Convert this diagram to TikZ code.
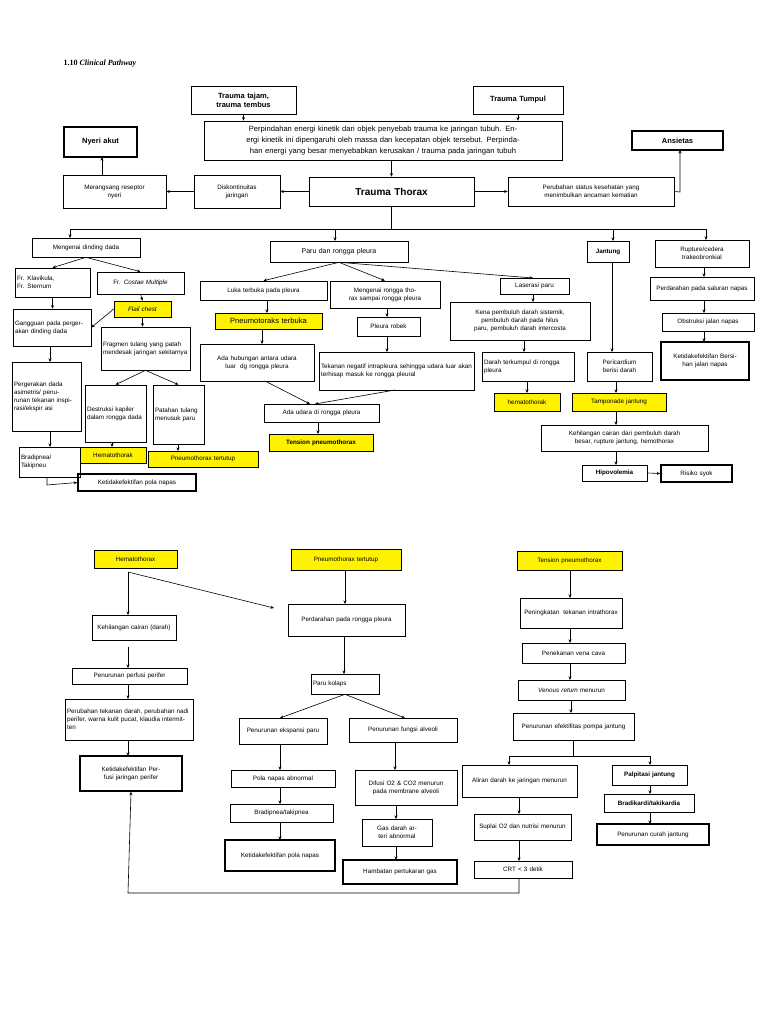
\documentclass[tikz,border=0pt]{standalone}
\usepackage{fontspec}
\setmainfont{Liberation Sans}
\usetikzlibrary{arrows.meta}
\newcommand\bx[7]{%
  \pgfmathsetmacro\bw{#4-#2}\pgfmathsetmacro\bh{#5-#3}%
  \pgfmathsetmacro\cx{(#2+#4)/2}\pgfmathsetmacro\cy{(#3+#5)/2}%
  \pgfmathsetmacro\tw{#4-#2-4}%
  \node[box,#6,minimum width=\bw pt,minimum height=\bh pt,text width=\tw pt] (#1) at (\cx,\cy) {#7};}
\begin{document}
\begin{tikzpicture}[x=1pt,y=-1pt,
  box/.style={draw,rectangle,inner xsep=2pt,inner ysep=0pt,align=center,font=\fontsize{6.3}{8}\selectfont,line width=0.6pt},
  yel/.style={fill=yellow},
  thk/.style={line width=1.6pt},
  bf/.style={font=\fontsize{6.3}{8}\selectfont\bfseries},
  arr/.style={-{Stealth[length=3.5pt,width=3pt]},line width=0.6pt},
  ln/.style={line width=0.6pt}]
\useasboundingbox (0,0) rectangle (768,1024);
\node[anchor=west,font=\fontsize{8}{9}\selectfont\rmfamily] (title) at (60,64) {\setmainfont{Liberation Serif}\bfseries 1.10 \itshape Clinical Pathway};
% top
\bx{t1}{191}{86}{296}{114}{bf,font=\fontsize{7.5}{9}\selectfont\bfseries}{Trauma tajam,\\ trauma tembus}
\bx{t2}{473}{86}{563}{114}{font=\fontsize{7.5}{9}\selectfont\bfseries}{Trauma Tumpul}
\bx{perp}{204}{121}{562}{160}{font=\fontsize{7.6}{11}\selectfont}{Perpindahan energi kinetik dari objek penyebab trauma ke jaringan tubuh. Energi kinetik ini dipengaruhi oleh massa dan kecepatan objek tersebut. Perpindahan energi yang besar menyebabkan kerusakan / trauma pada jaringan tubuh}
\bx{nyeri}{64}{127}{137}{157}{thk,font=\fontsize{7.5}{9}\selectfont\bfseries,anchor=center,yshift=0pt}{Nyeri akut\\[8pt]}
\bx{ansietas}{632}{131}{723}{150}{thk,font=\fontsize{7.5}{9}\selectfont\bfseries}{Ansietas}
\bx{mer}{63}{175}{166}{208}{}{Merangsang reseptor\\ nyeri}
\bx{disk}{194}{175}{280}{208}{}{Diskontinuitas\\ jaringan}
\bx{tt}{309}{177}{474}{206}{font=\fontsize{10}{12}\selectfont\bfseries}{Trauma Thorax}
\bx{perub}{508}{177}{674}{206}{}{Perubahan status kesehatan yang menimbulkan ancaman kematian}
\draw[arr] (t1.south) -- (perp.north -| t1.south);
\draw[arr] (t2.south) -- (perp.north -| t2.south);
\draw[arr] (perp.south -| tt.north) -- (tt.north);
\draw[arr] (tt.west) -- (disk.east);
\draw[arr] (disk.west) -- (mer.east);
\draw[arr] (102,175) -- (102,157);
\draw[arr] (tt.east) -- (perub.east -| perub.west);
\draw[arr] (perub.east) -- (680,192) -- (680,150);
\draw[ln] (tt.south) -- (391.5,229);
\draw[ln] (70,229) -- (706,229);
\foreach \x/\y in {70/238,335/241,613/241,706/240} \draw[arr] (\x,229) -- (\x,\y);
% left branch
\bx{mdd}{32}{238}{140}{257}{}{Mengenai dinding dada}
\bx{pdr}{270}{241}{408}{262}{font=\fontsize{7}{9}\selectfont}{Paru dan rongga pleura}
\bx{jantung}{587}{241}{629}{262}{bf}{Jantung}
\bx{rupture}{655}{240}{749}{267}{}{Rupture/cedera\\ trakeobronkial}
\bx{klav}{15}{268}{90}{297}{align=left}{Fr. Klavikula,\\ Fr. Sternum}
\bx{costae}{97}{272}{184}{294}{}{Fr. \textit{Costae Multiple}}
\bx{flail}{114}{301}{171}{317}{yel}{\textit{Flail chest}}
\bx{gang}{13}{309}{91}{346}{align=left}{Gangguan pada pergerakan dinding dada}
\bx{frag}{101}{327}{190}{370}{align=left}{Fragmen tulang yang patah mendesak jaringan sekitarnya}
\bx{perg}{12}{362}{81}{431}{align=left}{Pergerakan dada asimetris/ penurunan tekanan inspirasi/ekspir asi}
\bx{destr}{85}{385}{146}{442}{align=left}{Destruksi kapiler dalam rongga dada}
\bx{patahan}{153}{385}{204}{444}{align=left}{Patahan tulang menusuk paru\\[6pt]}
\bx{bradi}{19}{447}{80}{477}{align=left}{Bradipnea/\\ Takipneu}
\bx{hemato}{80}{447}{146}{463}{yel}{Hematothorak}
\bx{pneumotut}{148}{451}{258}{467}{yel}{Pneumothorax tertutup}
\bx{ketpola}{78}{474}{196}{491}{thk}{Ketidakefektifan pola napas}
\draw[arr] (mdd.south) -- (klav.north);
\draw[arr] (mdd.south) -- (costae.north);
\draw[arr] (klav.south) -- (gang.north -| klav.south);
\draw[arr] (costae.south) -- (flail.north);
\draw[arr] (flail.west) -- (gang.east);
\draw[arr] (flail.south) -- (flail.south |- frag.north);
\draw[arr] (frag.south) -- (destr.north);
\draw[arr] (frag.south) -- (patahan.north);
\draw[arr] (gang.south -| 50,0) -- (50,362);
\draw[arr] (50,431) -- (50,447);
\draw[arr] (112,442) -- (112,447);
\draw[arr] (178,444) -- (178,451);
\draw[arr] (47,477) -- (47,485) -- (ketpola.west);
% paru branch
\bx{luka}{200}{281}{327}{300}{}{Luka terbuka pada pleura}
\bx{meng}{330}{281}{440}{308}{}{Mengenai rongga thorax sampai rongga pleura}
\bx{laserasi}{500}{278}{569}{294}{}{Laserasi paru}
\bx{pnterbuka}{215}{313}{322}{329}{yel,font=\fontsize{7.6}{9}\selectfont}{Pneumotoraks terbuka}
\bx{robek}{357}{317}{420}{336}{}{Pleura robek}
\bx{kena}{450}{302}{590}{340}{}{Kena pembuluh darah sistemik, pembuluh darah pada hilus paru, pembuluh darah intercosta}
\bx{adahub}{200}{344}{314}{381}{}{Ada hubungan antara udara luar\ \ dg rongga pleura}
\bx{tekanan}{319}{352}{474}{390}{align=left}{Tekanan negatif intrapleura sehingga udara luar akan terhisap masuk ke rongga pleural}
\bx{darah}{482}{352}{574}{381}{align=left}{Darah terkumpul di rongga pleura}
\bx{peri}{587}{352}{652}{381}{}{Pericardium berisi darah}
\bx{adaudara}{264}{404}{379}{422}{}{Ada udara di rongga pleura}
\bx{tension}{269}{434}{373}{451}{yel,bf}{Tension pneumothorax}
\bx{hematothorak}{494}{393}{560}{411}{yel}{hematothorak}
\bx{tamponade}{572}{393}{666}{411}{yel}{Tamponade jantung}
\bx{kehil}{541}{425}{708}{451}{}{Kehilangan cairan dari pembuluh darah besar, rupture jantung, hemothorax}
\bx{hipo}{582}{465}{647}{481}{bf}{Hipovolemia}
\bx{risiko}{661}{465}{732}{482}{thk}{Risiko syok}
\bx{perdsal}{650}{277}{754}{300}{}{Perdarahan pada saluran napas}
\bx{obstruksi}{662}{313}{754}{331}{}{Obstruksi jalan napas}
\bx{ketbersih}{661}{342}{749}{380}{thk}{Ketidakefektifan Bersihan jalan napas}
\draw[arr] (pdr.south) -- (luka.north);
\draw[arr] (pdr.south) -- (meng.north);
\draw[arr] (pdr.south) -- (533,278);
\draw[arr] (267,300) -- (267,313);
\draw[arr] (262,329) -- (262,344);
\draw[arr] (387,308) -- (387,317);
\draw[arr] (387,336) -- (387,352);
\draw[arr] (533,294) -- (533,302);
\draw[arr] (524,340) -- (524,352);
\draw[arr] (527,381) -- (527,393);
\draw[arr] (265,381) -- (310,404);
\draw[arr] (395,390) -- (315,404);
\draw[arr] (318,422) -- (318,434);
\draw[arr] (612,262) -- (612,352);
\draw[arr] (616,381) -- (616,393);
\draw[arr] (616,411) -- (616,425);
\draw[arr] (616,451) -- (616,465);
\draw[arr] (hipo.east) -- (risiko.west);
\draw[arr] (704,267) -- (704,277);
\draw[arr] (704,300) -- (704,313);
\draw[arr] (704,331) -- (704,342);
% bottom half
\bx{hematox}{94}{550}{177}{568}{yel}{Hematothorax}
\bx{pnt}{291}{549}{401}{570}{yel}{Pneumothorax tertutup}
\bx{tens}{517}{551}{622}{570}{yel}{Tension pneumothorax}
\bx{kehc}{92}{615}{176}{640}{}{Kehilangan cairan (darah)}
\bx{perdr}{288}{604}{405}{636}{}{Perdarahan pada rongga pleura}
\bx{pening}{520}{598}{622}{628}{}{Peningkatan\ \ tekanan intrathorax}
\bx{penperf}{72}{668}{187}{684}{}{Penurunan perfusi perifer}
\bx{paruk}{311}{674}{379}{694}{align=left}{Paru kolaps}
\bx{penek}{522}{643}{625}{663}{}{Penekanan vena cava}
\bx{venous}{518}{680}{625}{700}{}{\textit{Venous return} menurun}
\bx{perubt}{65}{699}{193}{740}{align=left}{Perubahan tekanan darah, perubahan nadi perifer, warna kulit pucat, klaudia intermitten}
\bx{penek2}{239}{718}{327}{744}{}{Penurunan ekspansi paru}
\bx{penfung}{349}{718}{457}{742}{}{Penurunan fungsi alveoli}
\bx{penef}{513}{713}{634}{740}{}{Penurunan efektifitas pompa jantung}
\bx{ketperf}{80}{756}{182}{791}{thk}{Ketidakefektifan Perfusi jaringan perifer\\[6pt]}
\bx{aliran}{462}{765}{577}{797}{}{Aliran darah ke jaringan menurun}
\bx{palp}{612}{765}{687}{785}{bf}{Palpitasi jantung}
\bx{polaabn}{231}{770}{335}{787}{}{Pola napas abnormal}
\bx{difusi}{355}{770}{457}{805}{}{Difusi O2 \& CO2 menurun pada membrane alveoli}
\bx{braditak}{604}{794}{694}{812}{bf}{Bradikardi/takikardia}
\bx{bradtp}{230}{804}{333}{822}{}{Bradipnea/takipnea}
\bx{gas}{362}{819}{432}{846}{}{Gas darah arteri abnormal}
\bx{suplai}{474}{814}{571}{840}{}{Suplai O2 dan nutrisi menurun}
\bx{curah}{597}{824}{709}{845}{thk}{Penurunan curah jantung}
\bx{ketpola2}{225}{840}{335}{871}{thk}{Ketidakefektifan pola napas}
\bx{hamb}{343}{860}{457}{884}{thk}{Hambatan pertukaran gas}
\bx{crt}{474}{861}{572}{878}{}{CRT < 3 detik}
\draw[arr] (128,572) -- (128,615);
\draw[arr] (128,572) -- (274,608);
\draw[arr] (345,570) -- (345,604);
\draw[arr] (128,647) -- (128,668);
\draw[arr] (128,684) -- (128,699);
\draw[arr] (128,740) -- (128,756);
\draw[arr] (344,636) -- (344,674);
\draw[arr] (paruk.south) -- (280,718);
\draw[arr] (paruk.south) -- (405,718);
\draw[arr] (280,744) -- (280,770);
\draw[arr] (280,787) -- (280,804);
\draw[arr] (280,822) -- (280,840);
\draw[arr] (395,742) -- (395,770);
\draw[arr] (396,805) -- (396,819);
\draw[arr] (396,846) -- (396,860);
\draw[arr] (570,570) -- (570,598);
\draw[arr] (570,628) -- (570,643);
\draw[arr] (570,663) -- (570,680);
\draw[arr] (571,700) -- (571,713);
\draw[ln] (573,740) -- (573,756);
\draw[ln] (509,756) -- (650,756);
\draw[arr] (509,756) -- (509,765);
\draw[arr] (650,756) -- (650,765);
\draw[arr] (650,785) -- (650,794);
\draw[arr] (650,812) -- (650,824);
\draw[arr] (519,797) -- (519,814);
\draw[arr] (519,840) -- (519,861);
\draw[arr] (519,878) -- (519,893) -- (128,893) -- (ketperf.south);
\end{tikzpicture}
\end{document}
